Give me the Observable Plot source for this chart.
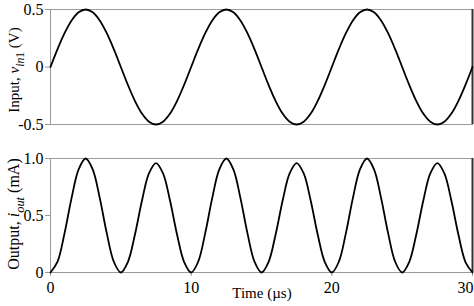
<!DOCTYPE html>
<html>
<head>
<meta charset="utf-8">
<script src="https://cdn.jsdelivr.net/npm/d3@7"></script>
<script src="https://cdn.jsdelivr.net/npm/@observablehq/plot@0.6"></script>
<style>
  html, body { margin: 0; padding: 0; background: white; }
  #chart { width: 474px; }
  #chart svg { display: block; }
</style>
</head>
<body>
<div id="chart"></div>
<script>
// Time samples (µs)
const times = [0,0.5,1,1.5,2,2.5,3,3.5,4,4.5,5,5.5,6,6.5,7,7.5,8,8.5,9,9.5,
  10,10.5,11,11.5,12,12.5,13,13.5,14,14.5,15,15.5,16,16.5,17,17.5,18,18.5,19,19.5,
  20,20.5,21,21.5,22,22.5,23,23.5,24,24.5,25,25.5,26,26.5,27,27.5,28,28.5,29,29.5,30];

// Input voltage v_in1 (V)
const vin = [0,0.155,0.294,0.405,0.476,0.5,0.476,0.405,0.294,0.155,
  0,-0.155,-0.294,-0.405,-0.476,-0.5,-0.476,-0.405,-0.294,-0.155,
  0,0.155,0.294,0.405,0.476,0.5,0.476,0.405,0.294,0.155,
  0,-0.155,-0.294,-0.405,-0.476,-0.5,-0.476,-0.405,-0.294,-0.155,
  0,0.155,0.294,0.405,0.476,0.5,0.476,0.405,0.294,0.155,
  0,-0.155,-0.294,-0.405,-0.476,-0.5,-0.476,-0.405,-0.294,-0.155,0];

// Output current i_out (mA)
const iout = [0,0.095,0.345,0.655,0.905,1.0,0.905,0.655,0.345,0.095,
  0,0.092,0.331,0.629,0.869,0.96,0.869,0.629,0.331,0.092,
  0,0.095,0.345,0.655,0.905,1.0,0.905,0.655,0.345,0.095,
  0,0.092,0.331,0.629,0.869,0.96,0.869,0.629,0.331,0.092,
  0,0.095,0.345,0.655,0.905,1.0,0.905,0.655,0.345,0.095,
  0,0.092,0.331,0.629,0.869,0.96,0.869,0.629,0.331,0.092,0];

const inputTicks = [-0.5, 0, 0.5];
const inputTickLabels = ["-0.5", "0", "0.5"];
const outputTicks = [0, 0.5, 1];
const outputTickLabels = ["0", "0.5", "1.0"];
const timeTicks = [0, 10, 20, 30];
const timeTickLabels = ["0", "10", "20", "30"];

const inputData = times.map((t, i) => ({t, v: vin[i]}));
const outputData = times.map((t, i) => ({t, v: iout[i]}));

const W = 474;
const FONT = "'Liberation Serif', 'Times New Roman', serif";
const gray = "#9a9a9a";

const topPlot = Plot.plot({
  width: W, height: 140,
  marginTop: 9, marginBottom: 16, marginLeft: 50, marginRight: 2,
  style: {fontFamily: FONT, fontSize: "16px", background: "white", color: "black"},
  x: {domain: [0, 30], axis: null},
  y: {domain: [-0.5, 0.5]},
  marks: [
    Plot.frame({stroke: gray}),
    Plot.axisY({ticks: inputTicks, tickFormat: d => inputTickLabels[inputTicks.indexOf(d)],
      tickSize: 5, tickPadding: 2, stroke: gray, label: null}),
    Plot.ruleX([30], {stroke: "#333", strokeWidth: 2}),
    Plot.line(inputData, {x: "t", y: "v", stroke: "black", strokeWidth: 1.8, curve: "catmull-rom"})
  ]
});

const bottomPlot = Plot.plot({
  width: W, height: 166,
  marginTop: 18, marginBottom: 34, marginLeft: 50, marginRight: 2,
  style: {fontFamily: FONT, fontSize: "16px", background: "white", color: "black"},
  x: {domain: [0, 30]},
  y: {domain: [0, 1]},
  marks: [
    Plot.frame({stroke: gray}),
    Plot.axisY({ticks: outputTicks, tickFormat: d => outputTickLabels[outputTicks.indexOf(d)],
      tickSize: 5, tickPadding: 2, stroke: gray, label: null}),
    Plot.axisX({ticks: timeTicks, tickFormat: d => timeTickLabels[timeTicks.indexOf(d)],
      tickSize: 4, tickPadding: 5, stroke: gray, label: null}),
    Plot.ruleX([30], {stroke: "#333", strokeWidth: 2}),
    Plot.line(outputData, {x: "t", y: "v", stroke: "black", strokeWidth: 1.8, curve: "catmull-rom"})
  ]
});

const chart = document.getElementById("chart");
chart.appendChild(topPlot);
chart.appendChild(bottomPlot);

// Right-align the last time tick label against the right edge, as in the reference
d3.select(bottomPlot).selectAll("text")
  .filter(function() { return this.textContent === timeTickLabels[timeTickLabels.length - 1]; })
  .attr("text-anchor", "end").attr("dx", 1);

// Y axis labels with italic subscripts
function yLabel(svg, cy, size, main, sym, sub, subTail, unit) {
  const t = d3.select(svg).append("text")
    .attr("transform", `translate(19,${cy}) rotate(-90)`)
    .attr("text-anchor", "middle")
    .attr("font-size", size)
    .attr("fill", "black");
  t.append("tspan").text(main);
  t.append("tspan").attr("font-style", "italic").text(sym);
  t.append("tspan").attr("font-style", "italic").attr("font-size", size * 0.78).attr("dy", 5).text(sub);
  if (subTail) t.append("tspan").attr("font-size", size * 0.78).text(subTail);
  t.append("tspan").attr("dy", -5).text(unit);
}
yLabel(topPlot, 70, 15, "Input, ", "v", "in", "1", " (V)");
yLabel(bottomPlot, 74, 16, "Output, ", "i", "out", "", " (mA)");

d3.select(bottomPlot).append("text")
  .attr("x", 262).attr("y", 158)
  .attr("text-anchor", "middle")
  .attr("font-size", 15)
  .attr("fill", "black")
  .text("Time (µs)");

// Force the serif face on every text, tick labels included
d3.selectAll("#chart svg, #chart svg g, #chart svg text")
  .style("font-family", FONT)
  .style("font-variant", "normal");
</script>
</body>
</html>
